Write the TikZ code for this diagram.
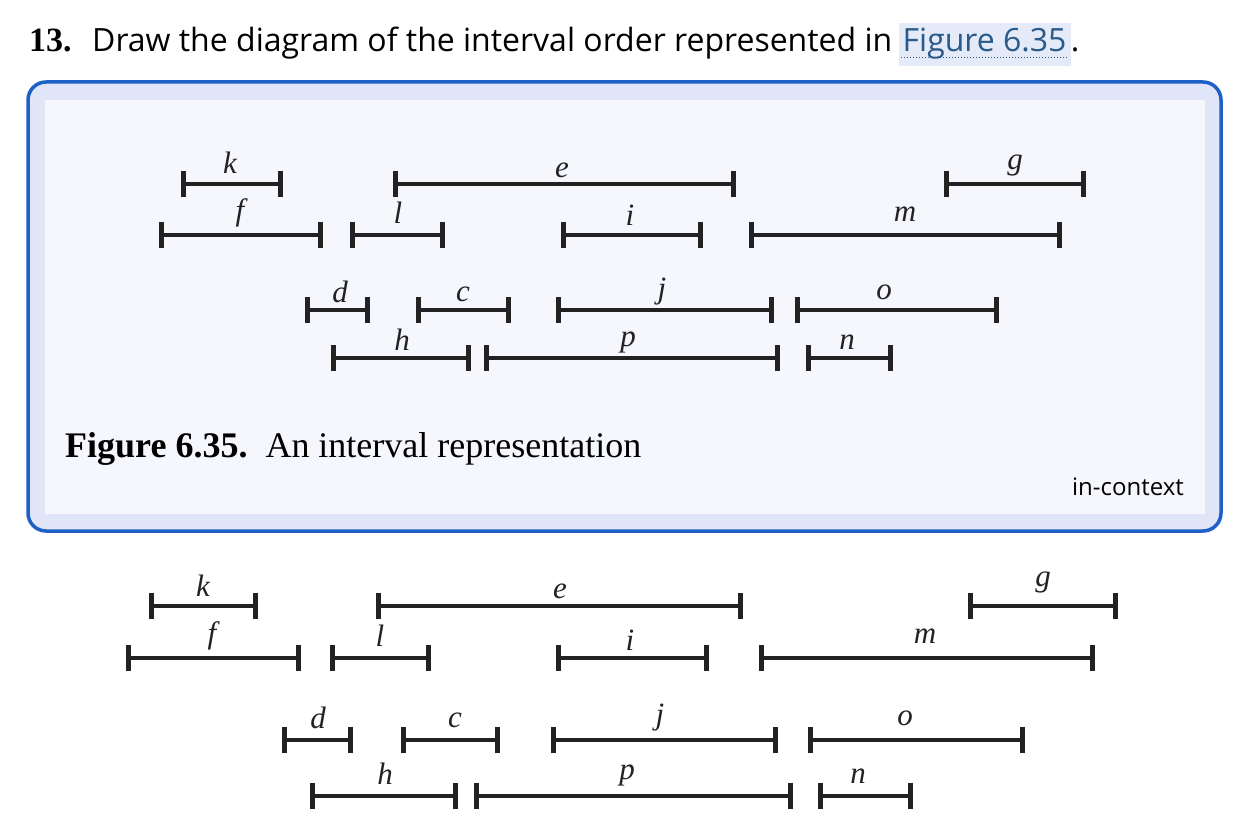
\documentclass[tikz,border=0pt]{standalone}
\usepackage{fontspec}
\setmainfont{Liberation Serif}
\newfontfamily\opensans{Open Sans}
\definecolor{bord}{HTML}{1F5FC8}
\definecolor{band}{HTML}{E0E6F8}
\definecolor{inner}{HTML}{F5F7FD}
\definecolor{ink}{HTML}{222222}
\definecolor{linkc}{HTML}{2A5A8A}
\definecolor{linkbg}{HTML}{E4EAF8}
\tikzset{
  seg/.style={ink,line width=4.5pt},
  tick/.style={ink,line width=5pt},
  lab/.style={inner sep=0pt,font=\fontsize{31}{32}\selectfont\itshape,ink},
}
\newcommand{\ivl}[7]{%
  \coordinate (#1a) at (#2,#4); \coordinate (#1b) at (#3,#4);
  \draw[seg] (#1a) -- (#1b);
  \draw[tick] ([yshift=-13pt]#1a) -- ([yshift=13pt]#1a);
  \draw[tick] ([yshift=-13pt]#1b) -- ([yshift=13pt]#1b);
  \node[lab] (#1l) at (#6,#7) {#5};}
\begin{document}
\begin{tikzpicture}[x=1pt,y=-1pt]
\useasboundingbox (0,0) rectangle (1254,834);
\fill[white] (0,0) rectangle (1254,834);
% heading
\node[anchor=base west,inner sep=0pt] (num) at (29,52) {\fontsize{34}{36}\selectfont\bfseries 13.};
\node[anchor=base west,inner sep=0pt] (head) at (92,52) {\opensans\fontsize{32}{36}\selectfont Draw the diagram of the interval order represented in};
\node[anchor=base west,inner xsep=4pt,inner ysep=6pt,fill=linkbg,text=linkc] (link) at ([xshift=6pt]head.base east) {\opensans\fontsize{32}{36}\selectfont Figure 6.35};
\draw[linkc,dotted,line width=1pt] ([yshift=-6pt,xshift=3pt]link.base west) -- ([yshift=-6pt,xshift=-3pt]link.base east);
\node[anchor=base west,inner sep=0pt] (dot) at (link.base east) {\opensans\fontsize{32}{36}\selectfont .};
% box
\draw[bord,line width=3.5pt,fill=band,rounded corners=18pt] (28,82) rectangle (1221,531);
\fill[inner] (45,100) rectangle (1205,514);
% top intervals
\ivl{k}{183}{280}{184}{k}{230}{163}
\ivl{e}{395}{733}{184}{e}{562}{170}
\ivl{g}{946}{1083}{184}{g}{1015}{166}
\ivl{f}{161}{320}{235}{f}{240}{213}
\ivl{l}{352}{442}{235}{l}{398}{213}
\ivl{i}{563}{700}{235}{i}{630}{215}
\ivl{m}{751}{1059}{235}{m}{905}{214}
\ivl{d}{307}{367}{310}{d}{340}{292}
\ivl{c}{418}{508}{310}{c}{463}{294}
\ivl{j}{558}{771}{310}{j}{662}{292}
\ivl{o}{797}{996}{310}{o}{884}{292}
\ivl{h}{333}{468}{358}{h}{402}{340}
\ivl{p}{486}{777}{358}{p}{628}{342}
\ivl{n}{808}{890}{358}{n}{847}{342}
\node[anchor=base west,inner sep=0pt] (cap) at (65,457) {\fontsize{36}{38}\selectfont\textbf{Figure 6.35.}\ \ An interval representation};
\node[anchor=base east,inner sep=0pt] (ctx) at (1184,495) {\opensans\fontsize{24}{26}\selectfont in-context};
% bottom intervals
\ivl{K}{151}{255}{606}{k}{203}{586}
\ivl{E}{378}{740}{606}{e}{560}{591}
\ivl{G}{970}{1115}{606}{g}{1043}{583}
\ivl{F}{128}{298}{658}{f}{212}{636}
\ivl{L}{332}{428}{658}{l}{380}{636}
\ivl{I}{558}{706}{658}{i}{630}{640}
\ivl{M}{761}{1092}{658}{m}{925}{636}
\ivl{D}{284}{350}{740}{d}{318}{718}
\ivl{C}{403}{497}{740}{c}{455}{720}
\ivl{J}{553}{775}{740}{j}{660}{718}
\ivl{O}{810}{1022}{740}{o}{905}{718}
\ivl{H}{312}{455}{796}{h}{385}{774}
\ivl{P}{476}{790}{796}{p}{627}{775}
\ivl{N}{820}{910}{796}{n}{858}{776}
\end{tikzpicture}
\end{document}
